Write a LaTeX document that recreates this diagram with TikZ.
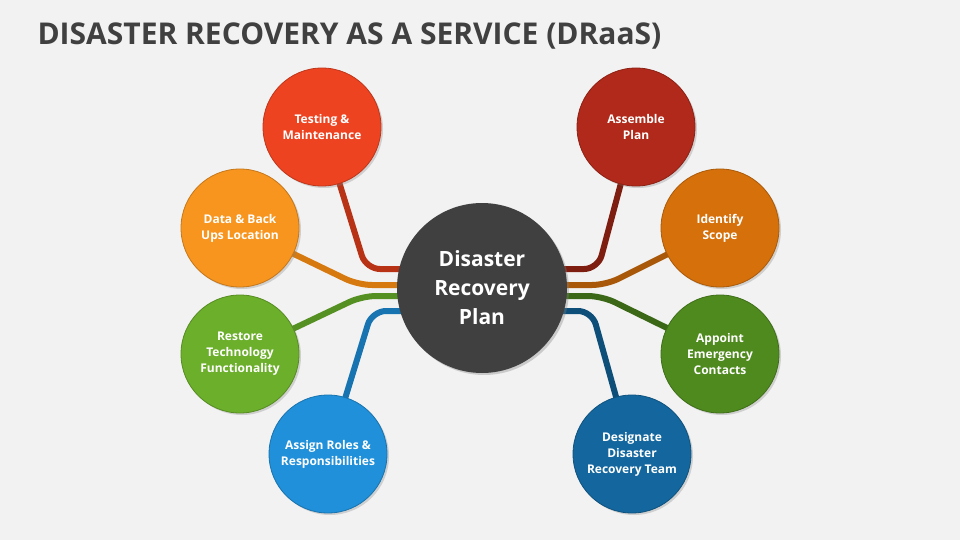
\documentclass[tikz,border=0pt]{standalone}
\usepackage{fontspec}
\setmainfont{Open Sans}
\usetikzlibrary{shadows,calc}
\pgfdeclarelayer{back}\pgfdeclarelayer{links}
\pgfsetlayers{back,links,main}
\definecolor{bg}{HTML}{F2F2F2}
\definecolor{ttl}{HTML}{404040}
\definecolor{cR}{HTML}{EE4321}\definecolor{lR}{HTML}{B83216}
\definecolor{cDR}{HTML}{B0291A}\definecolor{lDR}{HTML}{7E1E10}
\definecolor{cO}{HTML}{F7951F}\definecolor{lO}{HTML}{D67A10}
\definecolor{cDO}{HTML}{D5700B}\definecolor{lDO}{HTML}{A85808}
\definecolor{cG}{HTML}{6BAF2B}\definecolor{lG}{HTML}{559022}
\definecolor{cDG}{HTML}{4F8A1F}\definecolor{lDG}{HTML}{3A6816}
\definecolor{cB}{HTML}{1F90D9}\definecolor{lB}{HTML}{1874B0}
\definecolor{cDB}{HTML}{13679E}\definecolor{lDB}{HTML}{0E4F7A}
\begin{document}
\begin{tikzpicture}[x=1pt,y=-1pt,
  bub/.style={circle,minimum size=118pt,inner sep=0pt,draw=#1!80!black,line width=0.8pt,fill=#1,
    text=white,font=\bfseries\fontsize{12}{16}\selectfont,align=center,
    drop shadow={shadow xshift=2pt,shadow yshift=-2pt,opacity=0.3}},
  con/.style={line width=6pt,rounded corners=14pt,draw=#1}]
\useasboundingbox (0,0) rectangle (960,540);
\begin{pgfonlayer}{back}
\fill[bg] (0,0) rectangle (960,540);
\end{pgfonlayer}
\node[anchor=west,text=ttl,font=\bfseries\fontsize{30}{36}\selectfont] (title) at (34,36) {DISASTER RECOVERY AS A SERVICE (DRaaS)};
\node[bub=cR] (tm) at (322,127) {Testing \&\\Maintenance};
\node[bub=cO] (db) at (240,228) {Data \& Back\\Ups Location};
\node[bub=cG] (rt) at (240,354) {Restore\\Technology\\Functionality};
\node[bub=cB] (ar) at (328,454) {Assign Roles \&\\Responsibilities};
\node[bub=cDR] (ap) at (636,127) {Assemble\\Plan};
\node[bub=cDO] (is) at (720,228) {Identify\\Scope};
\node[bub=cDG] (ae) at (720,354) {Appoint\\Emergency\\Contacts};
\node[bub=cDB] (dd) at (632,454) {Designate\\Disaster\\Recovery Team};
\node[circle,minimum size=170pt,fill=ttl,inner sep=0pt,text=white,align=center,
  font=\bfseries\fontsize{21}{29}\selectfont,
  drop shadow={shadow xshift=2pt,shadow yshift=-2pt,opacity=0.35}] (ctr) at (482,288) {Disaster\\Recovery\\Plan};
\begin{pgfonlayer}{links}
\draw[con=lR] (tm.center) -- (366,269) -- ($(ctr.center)+(0,-19)$);
\draw[con=lO] (db.center) -- (358,285) -- ($(ctr.center)+(0,-3)$);
\draw[con=lG] (rt.center) -- (362,296) -- ($(ctr.center)+(0,8)$);
\draw[con=lB] (ar.center) -- (372,311) -- ($(ctr.center)+(0,23)$);
\draw[con=lDR] (ap.center) -- (598,269) -- ($(ctr.center)+(0,-19)$);
\draw[con=lDO] (is.center) -- (606,285) -- ($(ctr.center)+(0,-3)$);
\draw[con=lDG] (ae.center) -- (602,296) -- ($(ctr.center)+(0,8)$);
\draw[con=lDB] (dd.center) -- (592,311) -- ($(ctr.center)+(0,23)$);
\end{pgfonlayer}
\end{tikzpicture}
\end{document}
